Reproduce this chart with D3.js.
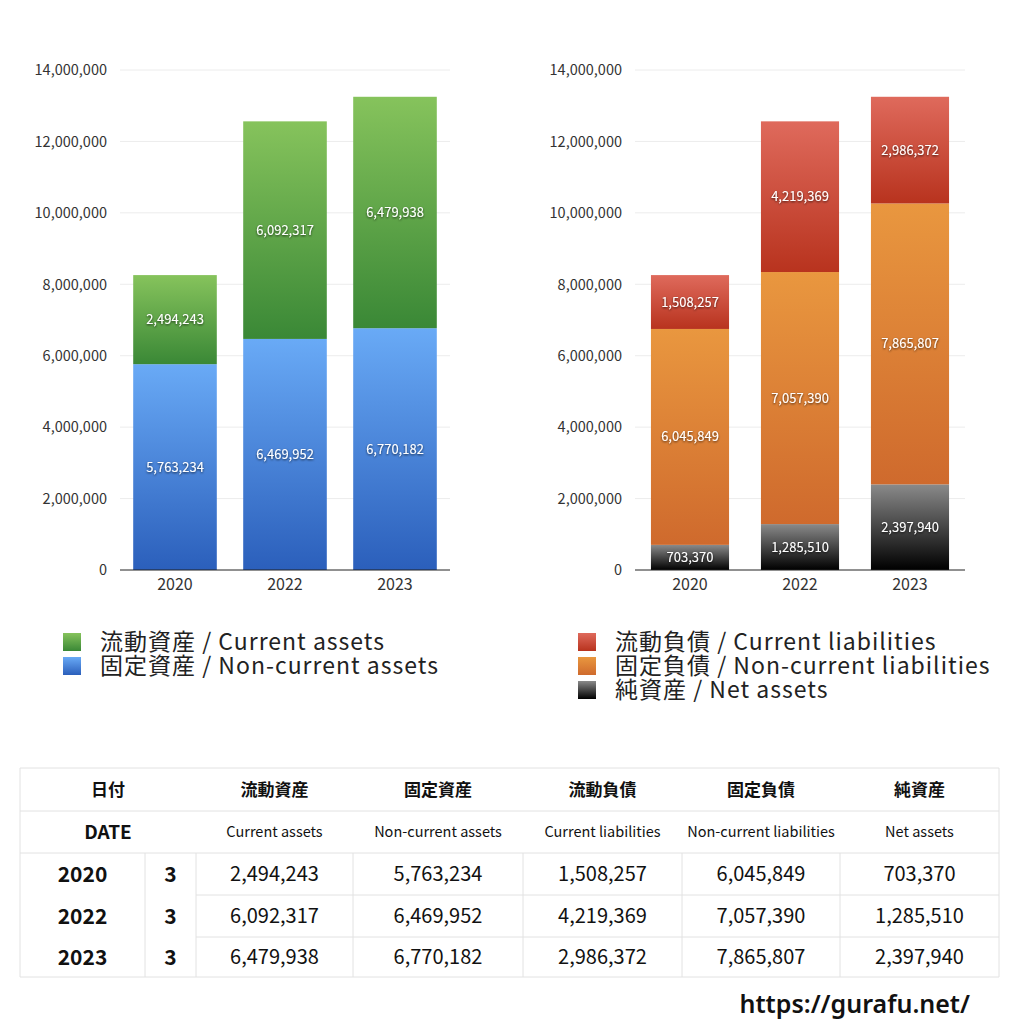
<!DOCTYPE html>
<html>
<head>
<meta charset="utf-8">
<script src="https://cdn.jsdelivr.net/npm/d3@7"></script>
<style>
    body { margin: 0; background: #ffffff; }
    svg { display: block; font-family: "Noto Sans CJK JP", "Noto Sans", sans-serif; }
</style>
</head>
<body>
<div id="chartContainer"></div>
<script>
// Data
const years = ["2020", "2022", "2023"];
const months = ["3", "3", "3"];
const currentAssets = [2494243, 6092317, 6479938];
const nonCurrentAssets = [5763234, 6469952, 6770182];
const currentLiabilities = [1508257, 4219369, 2986372];
const nonCurrentLiabilities = [6045849, 7057390, 7865807];
const netAssets = [703370, 1285510, 2397940];
const yTickValues = [0, 2000000, 4000000, 6000000, 8000000, 10000000, 12000000, 14000000];

const jpHeaders = ["日付", "流動資産", "固定資産", "流動負債", "固定負債", "純資産"];
const enHeaders = ["DATE", "Current assets", "Non-current assets", "Current liabilities", "Non-current liabilities", "Net assets"];

const width = 1024;
const height = 1024;
const fmt = d3.format(",");

const svg = d3.select("#chartContainer")
    .append("svg")
    .attr("width", width)
    .attr("height", height);

const defs = svg.append("defs");

// Series definitions (bottom to top in the stack)
const leftSeries = [
    { key: "nca", jp: "固定資産", en: "Non-current assets", values: nonCurrentAssets, top: "#69aaf6", bottom: "#2b5fbb" },
    { key: "ca", jp: "流動資産", en: "Current assets", values: currentAssets, top: "#86c35c", bottom: "#3a8836" }
];
const rightSeries = [
    { key: "na", jp: "純資産", en: "Net assets", values: netAssets, top: "#8a8a8a", bottom: "#000000" },
    { key: "ncl", jp: "固定負債", en: "Non-current liabilities", values: nonCurrentLiabilities, top: "#e9973f", bottom: "#cf6a2d" },
    { key: "cl", jp: "流動負債", en: "Current liabilities", values: currentLiabilities, top: "#df6a5c", bottom: "#b8331e" }
];

// Vertical gradients for each series
leftSeries.concat(rightSeries).forEach(s => {
    const grad = defs.append("linearGradient")
        .attr("id", "grad-" + s.key)
        .attr("x1", 0).attr("y1", 0).attr("x2", 0).attr("y2", 1);
    grad.append("stop").attr("offset", "0%").attr("stop-color", s.top);
    grad.append("stop").attr("offset", "100%").attr("stop-color", s.bottom);
});

// Text shadow for value labels
const shadow = defs.append("filter").attr("id", "labelShadow")
    .attr("x", "-20%").attr("y", "-40%").attr("width", "140%").attr("height", "180%");
shadow.append("feDropShadow")
    .attr("dx", 0).attr("dy", 1)
    .attr("stdDeviation", 0.8)
    .attr("flood-color", "#000")
    .attr("flood-opacity", 0.7);

const y = d3.scaleLinear()
    .domain([0, 14000000])
    .range([570, 70]);

function drawChart(series, x0, x1, padInner) {
    const x = d3.scaleBand()
        .domain(years)
        .range([x0, x1])
        .paddingInner(padInner)
        .paddingOuter(padInner / 2);

    const g = svg.append("g");

    // Grid lines
    g.selectAll(".grid")
        .data(yTickValues.filter(d => d > 0))
        .enter().append("line")
        .attr("x1", x0).attr("x2", x1)
        .attr("y1", d => y(d)).attr("y2", d => y(d))
        .attr("stroke", "#ececec")
        .attr("stroke-width", 1);

    // Y axis labels
    g.selectAll(".ytick")
        .data(yTickValues)
        .enter().append("text")
        .attr("x", x0 - 13)
        .attr("y", d => y(d))
        .attr("dy", "0.36em")
        .attr("text-anchor", "end")
        .style("font-size", "14.5px")
        .style("fill", "#333")
        .text(d => fmt(d));

    // Stack the data
    const rows = years.map((yr, i) => {
        const r = { year: yr };
        series.forEach(s => { r[s.key] = s.values[i]; });
        return r;
    });
    const stacked = d3.stack().keys(series.map(s => s.key))(rows);

    stacked.forEach((layer, li) => {
        const s = series[li];
        g.selectAll(".bar-" + s.key)
            .data(layer)
            .enter().append("rect")
            .attr("x", d => x(d.data.year))
            .attr("width", x.bandwidth())
            .attr("y", d => y(d[1]))
            .attr("height", d => y(d[0]) - y(d[1]))
            .attr("fill", "url(#grad-" + s.key + ")");

        g.selectAll(".label-" + s.key)
            .data(layer)
            .enter().append("text")
            .attr("x", d => x(d.data.year) + x.bandwidth() / 2)
            .attr("y", d => (y(d[0]) + y(d[1])) / 2)
            .attr("dy", "0.35em")
            .attr("text-anchor", "middle")
            .attr("filter", "url(#labelShadow)")
            .style("font-size", "13px")
            .style("fill", "#ffffff")
            .text(d => fmt(d[1] - d[0]));
    });

    // Baseline
    g.append("line")
        .attr("x1", x0).attr("x2", x1)
        .attr("y1", y(0)).attr("y2", y(0))
        .attr("stroke", "#222")
        .attr("stroke-width", 1);

    // X axis labels
    g.selectAll(".xtick")
        .data(years)
        .enter().append("text")
        .attr("x", d => x(d) + x.bandwidth() / 2)
        .attr("y", 590)
        .attr("text-anchor", "middle")
        .style("font-size", "16px")
        .style("fill", "#333")
        .text(d => d);
}

drawChart(leftSeries, 120, 450, 0.24);
drawChart(rightSeries, 635, 965, 0.29);

// Legends (top row first)
function drawLegend(series, lx, ly) {
    const items = series.slice().reverse();
    const lg = svg.append("g")
        .selectAll(".legend")
        .data(items)
        .enter().append("g")
        .attr("transform", (d, i) => `translate(${lx}, ${ly + i * 24})`);

    lg.append("rect")
        .attr("width", 18)
        .attr("height", 18)
        .attr("fill", d => "url(#grad-" + d.key + ")");

    lg.append("text")
        .attr("x", 37)
        .attr("y", 9)
        .attr("dy", "0.36em")
        .style("font-size", "23px")
        .style("letter-spacing", "1px")
        .style("fill", "#222")
        .text(d => d.jp + " / " + d.en);
}

drawLegend(leftSeries, 63, 633);
drawLegend(rightSeries, 578, 633);

// Data table
const colX = [20, 145, 196, 353, 523, 682, 840, 999];
const rowY = [768, 811, 853, 895, 937, 977];
const lineColor = "#e2e2e2";
const table = svg.append("g");

// horizontal lines
[768, 811, 853, 977].forEach(v => {
    table.append("line")
        .attr("x1", colX[0]).attr("x2", colX[7])
        .attr("y1", v).attr("y2", v)
        .attr("stroke", lineColor);
});
[895, 937].forEach(v => {
    table.append("line")
        .attr("x1", colX[2]).attr("x2", colX[7])
        .attr("y1", v).attr("y2", v)
        .attr("stroke", lineColor);
});
// vertical lines
[colX[0], colX[7]].forEach(v => {
    table.append("line")
        .attr("x1", v).attr("x2", v)
        .attr("y1", rowY[0]).attr("y2", rowY[5])
        .attr("stroke", lineColor);
});
colX.slice(1, 7).forEach(v => {
    table.append("line")
        .attr("x1", v).attr("x2", v)
        .attr("y1", rowY[2]).attr("y2", rowY[5])
        .attr("stroke", lineColor);
});

// header cell centers (first header spans year + month columns)
const headCenters = [(colX[0] + colX[2]) / 2].concat(d3.range(2, 7).map(i => (colX[i] + colX[i + 1]) / 2));

table.selectAll(".h1")
    .data(jpHeaders)
    .enter().append("text")
    .attr("x", (d, i) => headCenters[i])
    .attr("y", (rowY[0] + rowY[1]) / 2)
    .attr("dy", "0.36em")
    .attr("text-anchor", "middle")
    .style("font-size", "17px")
    .style("font-weight", "bold")
    .style("fill", "#111")
    .text(d => d);

table.selectAll(".h2")
    .data(enHeaders)
    .enter().append("text")
    .attr("x", (d, i) => headCenters[i])
    .attr("y", (rowY[1] + rowY[2]) / 2)
    .attr("dy", "0.36em")
    .attr("text-anchor", "middle")
    .style("font-size", (d, i) => i === 0 ? "19px" : "14.5px")
    .style("font-weight", (d, i) => i === 0 ? "bold" : "normal")
    .style("fill", "#111")
    .text(d => d);

const tableValues = [currentAssets, nonCurrentAssets, currentLiabilities, nonCurrentLiabilities, netAssets];

years.forEach((yr, r) => {
    const cy = (rowY[r + 2] + rowY[r + 3]) / 2;
    const cells = [yr, months[r]].concat(tableValues.map(arr => fmt(arr[r])));
    table.selectAll(".row" + r)
        .data(cells)
        .enter().append("text")
        .attr("x", (d, i) => (colX[i] + colX[i + 1]) / 2)
        .attr("y", cy)
        .attr("dy", "0.36em")
        .attr("text-anchor", "middle")
        .style("font-size", (d, i) => i < 2 ? "21px" : "20px")
        .style("font-weight", (d, i) => i < 2 ? "bold" : "normal")
        .style("fill", "#111")
        .text(d => d);
});

// Site credit
svg.append("text")
    .attr("x", 970)
    .attr("y", 1013)
    .attr("text-anchor", "end")
    .style("font-family", "'Noto Sans', sans-serif")
    .style("font-size", "25px")
    .style("font-weight", "600")
    .style("fill", "#111")
    .text("https://gurafu.net/");
</script>
</body>
</html>
